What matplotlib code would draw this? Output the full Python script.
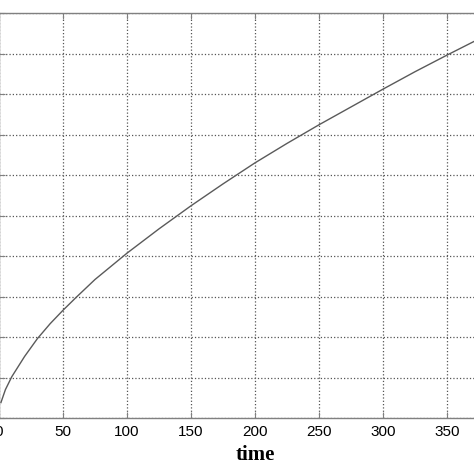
import matplotlib
matplotlib.use('Agg')
import matplotlib.pyplot as plt

# values (y in grid units, 10 divisions; the y labels are cropped away)
time = [1.5, 5, 10, 20, 30, 40, 50, 60, 75, 100, 125, 150, 175, 200, 225, 250, 275, 300, 325, 350, 375]
value = [0.38, 0.70, 1.02, 1.52, 1.96, 2.33, 2.66, 2.97, 3.42, 4.07, 4.67, 5.24, 5.78, 6.30, 6.78,
         7.24, 7.68, 8.12, 8.55, 8.96, 9.36]
xticks = [0, 50, 100, 150, 200, 250, 300, 350, 400]
yticks = list(range(11))

fig = plt.figure(figsize=(4.74, 4.74), dpi=100)
# the reference is cropped: left spine sits on the image edge, right spine is off-image
ax = fig.add_axes([-1 / 474, 56 / 474, 512 / 474, 405 / 474])

ax.plot(time, value, color='#5a5a5a', linewidth=1.0)

ax.set_xlim(0, 400)
ax.set_ylim(0, 10)
ax.set_xticks(xticks)
ax.set_yticks(yticks)
ax.tick_params(direction='in', top=True, right=True, length=4, color='#808080',
               labelsize=11, pad=5, labelleft=False)
for lbl in ax.get_xticklabels():
    lbl.set_family('Liberation Sans')
ax.grid(True, linestyle=':', color='#555555', linewidth=0.9)
for s in ax.spines.values():
    s.set_color('#808080')
    s.set_linewidth(1.0)

ax.set_xlabel('time', fontfamily='Liberation Serif', fontweight='bold', fontsize=15, labelpad=4)

fig.savefig('out.png', dpi=100)
